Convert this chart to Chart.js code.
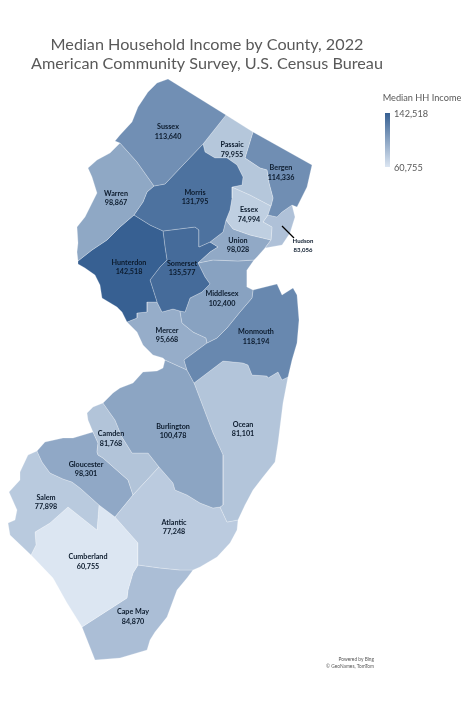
<!DOCTYPE html>
<html>
<head>
<meta charset="utf-8">
<title>Median Household Income by County, 2022</title>
<script src="https://cdn.jsdelivr.net/npm/chart.js@4/dist/chart.umd.min.js"></script>
<style>
body { margin: 0; background: #fff; }
canvas { display: block; }
</style>
</head>
<body>
<canvas id="mapa" width="474" height="711"></canvas>
<script>
const titleLines = ['Median Household Income by County, 2022', 'American Community Survey, U.S. Census Bureau']
const legendTitle = 'Median HH Income'
const creditLines = ['Powered by Bing', '© GeoNames, TomTom']

const counties = ['Sussex', 'Warren', 'Morris', 'Passaic', 'Bergen', 'Essex', 'Hudson', 'Union', 'Hunterdon', 'Somerset', 'Middlesex',
    'Monmouth', 'Mercer', 'Burlington', 'Ocean', 'Atlantic', 'Camden', 'Gloucester', 'Salem', 'Cumberland', 'Cape May']
const incomes = [113640, 98867, 131795, 79955, 114336, 74994, 83056, 98028, 142518, 135577, 102400,
    118194, 95668, 100478, 81101, 77248, 81768, 98301, 77898, 60755, 84870]

// label anchors in map units, one per county: [x, y of name, y of value]
const labelAnchors = [[168, 127, 137], [116, 194, 203], [195, 193, 202], [232, 145, 155], [281, 168, 178], [249, 210, 220], [303, 241, 250],
    [238, 241, 250], [129, 263, 272], [182, 264, 273], [222, 294, 304], [256, 332, 342], [167, 331, 340], [173, 427, 436],
    [243, 425, 434], [174, 523, 532], [111, 434, 444], [86, 465, 474], [46, 498, 507], [88, 557, 567], [133, 612, 622]]

// county outlines, map units
const sussex = [[157,83],[168,79],[226,115],[203,144],[183,165],[165,184],[154,186],[137,162],[120,143],[115,141],[120,135],[132,122],[138,107],[148,92]]
const warren = [[120,143],[137,162],[154,186],[147,192],[143,202],[134,215],[120,227],[107,240],[92,250],[78,261],[77,252],[78,243],[77,227],[85,217],[92,203],[97,193],[92,177],[88,168],[97,160],[110,153]]
const morris = [[154,186],[165,184],[183,165],[203,144],[205,152],[215,158],[227,158],[237,165],[243,177],[242,185],[232,187],[232,198],[230,210],[226,220],[223,232],[210,242],[199,247],[199,230],[195,227],[163,231],[150,225],[134,215],[143,202],[147,192]]
const passaic = [[203,144],[226,115],[253,132],[245,158],[260,168],[267,170],[269,183],[273,198],[271,206],[250,195],[232,187],[242,185],[243,177],[237,165],[227,158],[215,158],[205,152]]
const bergen = [[253,132],[312,165],[307,187],[297,207],[292,205],[282,212],[277,217],[268,215],[271,206],[273,198],[269,183],[267,170],[260,168],[245,158]]
const essex = [[232,187],[250,195],[271,206],[268,215],[263,222],[272,227],[271,240],[250,235],[233,229],[226,220],[230,210],[232,198]]
const hudson = [[268,215],[263,222],[272,227],[271,240],[265,248],[282,245],[290,233],[295,217],[292,205],[282,212],[277,217]]
const union = [[226,220],[233,229],[250,235],[271,240],[265,248],[257,257],[254,260],[238,261],[213,260],[198,263],[210,252],[218,247],[210,242],[223,232]]
const hunterdon = [[134,215],[150,225],[163,231],[165,247],[167,260],[160,267],[150,280],[157,302],[147,302],[147,312],[137,313],[137,318],[127,322],[122,312],[117,307],[102,298],[100,285],[95,275],[85,268],[78,264],[78,261],[92,250],[107,240],[120,227]]
const somerset = [[163,231],[195,227],[199,230],[199,247],[210,242],[218,247],[210,252],[198,263],[205,277],[210,284],[202,292],[190,298],[185,312],[180,311],[173,309],[162,312],[157,302],[150,280],[160,267],[167,260],[165,247]]
const middlesex = [[198,263],[213,260],[238,261],[254,260],[247,270],[247,287],[253,290],[252,298],[240,312],[227,328],[217,338],[207,343],[206,338],[193,332],[182,323],[180,311],[185,312],[190,298],[202,292],[210,284],[205,277]]
const monmouth = [[253,290],[277,284],[282,295],[293,288],[297,295],[299,320],[297,343],[292,360],[288,377],[282,380],[278,372],[268,378],[267,376],[252,375],[248,365],[243,363],[223,361],[194,383],[187,370],[184,360],[207,343],[217,338],[227,328],[240,312],[252,298]]
const mercer = [[127,322],[137,318],[137,313],[147,312],[147,302],[157,302],[162,312],[173,309],[180,311],[182,323],[193,332],[206,338],[207,343],[184,360],[187,370],[165,360],[163,358],[153,355],[143,345],[137,332]]
const burlington = [[165,360],[187,370],[194,383],[213,433],[223,455],[223,505],[220,507],[213,508],[200,503],[187,495],[175,490],[173,483],[159,467],[148,453],[132,453],[122,437],[115,420],[110,413],[103,403],[113,393],[120,388],[133,383],[143,372],[157,371],[163,368]]
const ocean = [[194,383],[223,361],[243,363],[248,365],[252,375],[267,376],[268,378],[278,372],[282,380],[288,377],[283,403],[278,443],[275,462],[263,477],[253,490],[245,505],[238,520],[227,522],[220,507],[223,505],[223,455],[213,433]]
const atlantic = [[159,467],[173,483],[175,490],[187,495],[200,503],[213,508],[220,507],[227,522],[238,520],[237,530],[230,543],[217,557],[200,567],[193,570],[180,570],[160,568],[138,565],[138,543],[115,517],[133,495]]
const camden = [[103,403],[110,413],[115,420],[122,437],[132,453],[148,453],[159,467],[133,495],[128,480],[120,473],[103,458],[98,455],[97,452],[98,443],[93,432],[88,420],[87,413],[93,407]]
const gloucester = [[37,451],[45,442],[63,438],[73,438],[93,432],[98,443],[97,452],[98,455],[103,458],[120,473],[128,480],[133,495],[115,517],[99,505],[80,488],[72,482],[63,479],[50,473],[42,462]]
const salem = [[37,451],[42,462],[50,473],[63,479],[72,482],[80,488],[99,505],[97,530],[68,507],[50,523],[35,532],[36,545],[31,555],[10,535],[8,523],[15,520],[17,510],[9,492],[20,480],[20,472],[28,455]]
const cumberland = [[31,555],[36,545],[35,532],[50,523],[68,507],[97,530],[99,505],[115,517],[138,543],[138,565],[133,573],[128,590],[127,598],[82,627],[67,603],[53,578]]
const capeMay = [[82,627],[127,598],[128,590],[133,573],[138,565],[160,568],[180,570],[193,570],[187,578],[177,590],[167,617],[155,632],[150,640],[147,650],[120,658],[95,660]]

const outlines = [sussex, warren, morris, passaic, bergen, essex, hudson, union, hunterdon, somerset, middlesex,
    monmouth, mercer, burlington, ocean, atlantic, camden, gloucester, salem, cumberland, capeMay]

const hudsonLeader = [[282, 226], [294, 238]]

const lowColor = [220, 230, 242]
const highColor = [55, 96, 146]
const minIncome = Math.min(...incomes)
const maxIncome = Math.max(...incomes)

function incomeColor(value) {
    let t = (value - minIncome) / (maxIncome - minIncome)
    let rgb = lowColor.map((c, i) => Math.round(c + (highColor[i] - c) * t))
    return 'rgb(' + rgb.join(',') + ')'
}

function toPoints(list) {
    return list.map(p => ({ x: p[0], y: p[1] }))
}

let datasets = counties.map((name, i) => ({
    label: name,
    data: toPoints(outlines[i].concat([outlines[i][0]])),
    showLine: true,
    fill: 'shape',
    backgroundColor: incomeColor(incomes[i]),
    borderColor: 'rgba(255,255,255,0.4)',
    borderWidth: 0.6,
    pointRadius: 0,
    tension: 0,
    clip: false,
}))

datasets.push({
    label: 'Hudson leader',
    data: toPoints(hudsonLeader),
    showLine: true,
    borderColor: '#000',
    borderWidth: 1.3,
    pointRadius: 0,
    order: -1,
})

// county labels, colour legend and credits
const mapText = {
    id: 'mapText',
    afterDraw(chart) {
        let c = chart.ctx
        let sx = chart.scales.x
        let sy = chart.scales.y
        c.save()
        c.textBaseline = 'middle'
        c.textAlign = 'center'
        c.fillStyle = '#0b1a2c'
        counties.forEach((name, i) => {
            let a = labelAnchors[i]
            c.font = (name === 'Hudson' ? '700 6px' : '700 7.2px') + ' Lato'
            c.fillText(name, sx.getPixelForValue(a[0]), sy.getPixelForValue(a[1]))
            c.fillText(incomes[i].toLocaleString('en-US'), sx.getPixelForValue(a[0]), sy.getPixelForValue(a[2]))
        })

        c.fillStyle = '#595959'
        c.font = '9.2px Lato'
        c.fillText(legendTitle, 422, 98)
        let grad = c.createLinearGradient(0, 113, 0, 167)
        grad.addColorStop(0, incomeColor(maxIncome))
        grad.addColorStop(1, incomeColor(minIncome))
        c.fillStyle = grad
        c.fillRect(385, 113, 5, 54)
        c.fillStyle = '#595959'
        c.textAlign = 'left'
        c.font = '9.2px Lato'
        c.fillText(maxIncome.toLocaleString('en-US'), 394, 114)
        c.fillText(minIncome.toLocaleString('en-US'), 394, 168)

        c.textAlign = 'right'
        c.font = '4.8px Lato'
        c.fillText(creditLines[0], 374, 659)
        c.fillText(creditLines[1], 374, 666)
        c.restore()
    }
}

let grafico = new Chart(document.getElementById('mapa').getContext('2d'), {
    type: 'scatter',
    data: { datasets: datasets },
    plugins: [mapText],
    options: {
        responsive: false,
        animation: false,
        layout: { padding: { right: 60 } },
        scales: {
            x: { type: 'linear', display: false, min: 0, max: 414 },
            y: { type: 'linear', display: false, reverse: true, min: 78, max: 711 },
        },
        plugins: {
            legend: { display: false },
            tooltip: { enabled: false },
            title: {
                display: true,
                text: titleLines,
                color: '#595959',
                font: { family: 'Lato', size: 16.2, weight: 'normal', lineHeight: 1.173 },
                padding: { top: 35, bottom: 5 },
            },
        },
    },
})
</script>
</body>
</html>
